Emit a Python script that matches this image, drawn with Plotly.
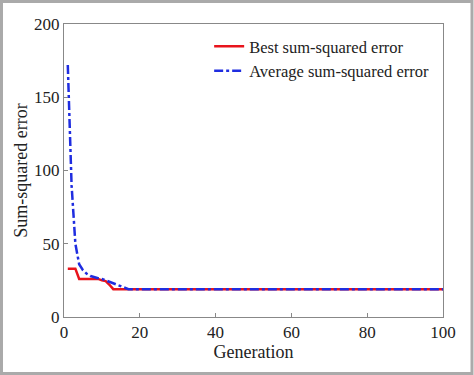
import plotly.graph_objects as go

generations = list(range(1, 101))
best_sse = [33, 33, 33, 26, 26, 26, 26, 26, 26, 25, 24.5, 22] + [19] * 88
avg_sse = [172, 90, 50, 36, 32, 29.5, 28, 27, 26.5, 26, 25, 24, 22.5, 21.5, 20.5, 19.5] + [19] * 84

x_ticks = [0, 20, 40, 60, 80, 100]
y_ticks = [0, 50, 100, 150, 200]

W, H = 474, 375
L, R, T, B = 64, 31, 24, 58
pw, ph = W - L - R, H - T - B

font = "Liberation Serif, Times New Roman, serif"

fig = go.Figure()
fig.add_trace(go.Scatter(x=generations, y=best_sse, mode="lines", name="Best sum-squared error",
                         line=dict(color="#e8141c", width=2.5)))
fig.add_trace(go.Scatter(x=generations, y=avg_sse, mode="lines", name="Average sum-squared error",
                         line=dict(color="#1f2de0", width=2.5, dash="dashdot")))

axis_common = dict(showline=True, linecolor="#888888", linewidth=1, mirror=True,
                   ticks="inside", ticklen=4, tickcolor="#888888", showgrid=False, zeroline=False,
                   automargin=False,
                   tickfont=dict(family=font, size=17, color="#222222"))

fig.update_layout(
    width=W, height=H,
    margin=dict(l=L, r=R, t=T, b=B),
    paper_bgcolor="white", plot_bgcolor="white",
    font=dict(family=font, color="#222222"),
    xaxis=dict(range=[0, 100], tickvals=x_ticks,
               title=dict(text="Generation", font=dict(family=font, size=18), standoff=3),
               **axis_common),
    yaxis=dict(range=[0, 200], tickvals=y_ticks,
               title=dict(text="Sum-squared error", font=dict(family=font, size=18), standoff=1),
               **axis_common),
    legend=dict(x=0.383, y=0.983, xanchor="left", yanchor="top", bgcolor="rgba(0,0,0,0)",
                font=dict(family=font, size=16.5, color="#222222"), tracegroupgap=0),
    showlegend=True,
)

fig.add_shape(type="rect", xref="paper", yref="paper",
              x0=(1.5 - L) / pw, x1=(472 - L) / pw,
              y0=1 + (T - 1.5) / ph, y1=(H - B - 373.5) / ph,
              line=dict(color="#aaaaaa", width=3), layer="above")

fig.write_html("out.html", config={"displayModeBar": False},
               post_script="document.body.style.margin='0';document.body.style.padding='0';")
